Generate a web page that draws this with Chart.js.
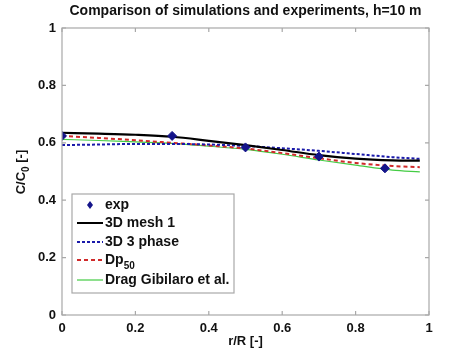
<!DOCTYPE html>
<html><head><meta charset="utf-8">
<script src="https://cdn.jsdelivr.net/npm/chart.js@4/dist/chart.umd.min.js"></script>
<style>html,body{margin:0;padding:0;background:#fff}#wrap{width:474px;height:355px}</style>
</head><body><div id="wrap"><canvas id="c" width="474" height="355"></canvas></div>
<script>
const titleText = "Comparison of simulations and experiments, h=10 m";
const xTicks = [0, 0.2, 0.4, 0.6, 0.8, 1];
const yTicks = [0, 0.2, 0.4, 0.6, 0.8, 1];
const expR = [0, 0.3, 0.5, 0.7, 0.88];
const expC = [0.624, 0.624, 0.584, 0.552, 0.511];
const simR = [0, 0.1, 0.2, 0.3, 0.4, 0.5, 0.6, 0.7, 0.8, 0.9, 0.975];
const mesh1 = [0.635, 0.632, 0.628, 0.621, 0.607, 0.592, 0.575, 0.557, 0.545, 0.539, 0.538];
const phase3 = [0.592, 0.594, 0.596, 0.596, 0.594, 0.589, 0.581, 0.572, 0.561, 0.550, 0.544];
const dp50 = [0.624, 0.617, 0.609, 0.600, 0.591, 0.580, 0.564, 0.546, 0.530, 0.519, 0.515];
const gibilaro = [0.612, 0.608, 0.603, 0.598, 0.588, 0.577, 0.560, 0.540, 0.522, 0.505, 0.499];

const pts = (xs, ys) => xs.map((x, i) => ({x, y: ys[i]}));
const FONT = "'Liberation Sans', Arial, sans-serif";

const lineDs = (label, data, color, width, dash) => ({
  label, data: pts(simR, data), borderColor: color, backgroundColor: color,
  borderWidth: width, borderDash: dash, showLine: true, pointRadius: 0,
  cubicInterpolationMode: 'monotone', order: 2
});

const datasets = [
  {label: 'exp', data: pts(expR, expC), showLine: false, pointStyle: 'rectRot',
   pointRadius: 4.5, backgroundColor: '#14148a', borderColor: '#14148a', borderWidth: 1, order: 0},
  lineDs('3D mesh 1', mesh1, '#000000', 2.2, []),
  lineDs('3D 3 phase', phase3, '#1a1aaa', 2, [3, 2]),
  lineDs('Dp50', dp50, '#d02a2a', 2, [4, 3]),
  lineDs('Drag Gibilaro et al.', gibilaro, '#44cc44', 1.2, [])
];

const deco = {
  id: 'deco',
  afterDraw(chart) {
    const ctx = chart.ctx, a = chart.chartArea;
    const xs = chart.scales.x, ys = chart.scales.y;
    ctx.save();
    ctx.strokeStyle = '#a8a8a8'; ctx.lineWidth = 1.2;
    ctx.strokeRect(a.left, a.top, a.right - a.left, a.bottom - a.top);
    ctx.beginPath();
    xTicks.forEach(v => { const p = xs.getPixelForValue(v);
      ctx.moveTo(p, a.bottom); ctx.lineTo(p, a.bottom - 4);
      ctx.moveTo(p, a.top); ctx.lineTo(p, a.top + 4); });
    yTicks.forEach(v => { const p = ys.getPixelForValue(v);
      ctx.moveTo(a.left, p); ctx.lineTo(a.left + 4, p);
      ctx.moveTo(a.right, p); ctx.lineTo(a.right - 4, p); });
    ctx.stroke();
    ctx.fillStyle = '#111';
    ctx.textAlign = 'center'; ctx.textBaseline = 'middle';
    ctx.font = 'bold 14px ' + FONT;
    ctx.fillText(titleText, (a.left + a.right) / 2, 11);
    ctx.font = 'bold 13px ' + FONT;
    ctx.fillText('r/R [-]', (a.left + a.right) / 2, 341);
    ctx.save();
    ctx.translate(21, 172);
    ctx.rotate(-Math.PI / 2);
    ctx.textAlign = 'left';
    const p1 = 'C/C', p2 = '0', p3 = ' [-]';
    ctx.font = 'bold 13px ' + FONT; const w1 = ctx.measureText(p1).width, w3 = ctx.measureText(p3).width;
    ctx.font = 'bold 10px ' + FONT; const w2 = ctx.measureText(p2).width;
    let x0 = -(w1 + w2 + w3) / 2;
    ctx.font = 'bold 13px ' + FONT; ctx.fillText(p1, x0, 0);
    ctx.font = 'bold 10px ' + FONT; ctx.fillText(p2, x0 + w1, 5);
    ctx.font = 'bold 13px ' + FONT; ctx.fillText(p3, x0 + w1 + w2, 0);
    ctx.restore();
    const lx = 72, ly = 194, lw = 162, lh = 99;
    ctx.fillStyle = '#fff'; ctx.fillRect(lx, ly, lw, lh);
    ctx.strokeStyle = '#a8a8a8'; ctx.lineWidth = 1.2; ctx.strokeRect(lx, ly, lw, lh);
    const rows = [205, 223, 242, 260, 280];
    chart.data.datasets.forEach((ds, i) => {
      const y = rows[i];
      ctx.save();
      if (ds.showLine) {
        ctx.strokeStyle = ds.borderColor; ctx.lineWidth = Math.min(ds.borderWidth, 2);
        ctx.setLineDash(ds.borderDash || []);
        ctx.beginPath(); ctx.moveTo(77, y); ctx.lineTo(103, y); ctx.stroke();
      } else {
        ctx.fillStyle = ds.backgroundColor; ctx.beginPath();
        ctx.moveTo(90, y - 4); ctx.lineTo(93, y); ctx.lineTo(90, y + 4); ctx.lineTo(87, y); ctx.closePath(); ctx.fill();
      }
      ctx.restore();
      ctx.fillStyle = '#111'; ctx.textAlign = 'left'; ctx.textBaseline = 'middle';
      ctx.font = 'bold 14px ' + FONT;
      if (ds.label === 'Dp50') {
        ctx.fillText('Dp', 105, y);
        const w = ctx.measureText('Dp').width;
        ctx.font = 'bold 10px ' + FONT; ctx.fillText('50', 105 + w, y + 6);
      } else {
        ctx.fillText(ds.label, 105, y);
      }
    });
    ctx.restore();
  }
};

new Chart(document.getElementById('c'), {
  type: 'scatter',
  data: {datasets},
  options: {
    responsive: false, animation: false, devicePixelRatio: 1,
    layout: {padding: {left: 0, right: 45, top: 28, bottom: 0}},
    plugins: {legend: {display: false}, tooltip: {enabled: false}, title: {display: false}},
    scales: {
      x: {type: 'linear', min: 0, max: 1,
        afterFit: s => { s.height = 40; },
        afterBuildTicks: s => { s.ticks = xTicks.map(v => ({value: v})); },
        grid: {display: false, drawTicks: false}, border: {display: false},
        ticks: {padding: 6, color: '#111', font: {family: FONT, size: 13, weight: 'bold'},
          callback: v => String(v)}},
      y: {min: 0, max: 1,
        afterFit: s => { s.width = 62; },
        afterBuildTicks: s => { s.ticks = yTicks.map(v => ({value: v})); },
        grid: {display: false, drawTicks: false}, border: {display: false},
        ticks: {padding: 6, color: '#111', font: {family: FONT, size: 13, weight: 'bold'},
          callback: v => String(v)}}
    }
  },
  plugins: [deco]
});
</script></body></html>
